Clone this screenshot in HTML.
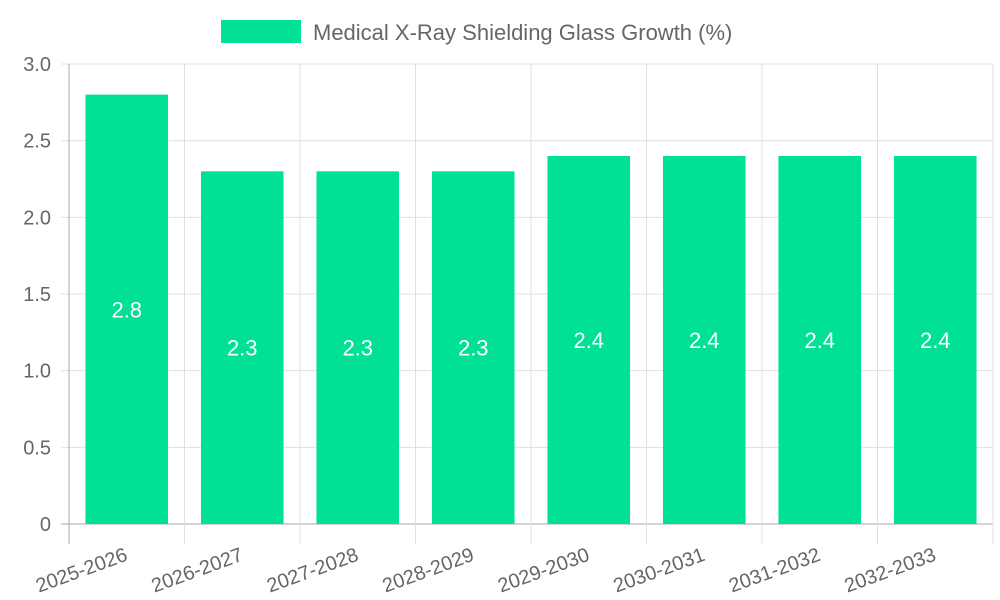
<!DOCTYPE html>
<html><head><meta charset="utf-8"><style>
body{margin:0;background:#fff;}
svg{display:block;font-family:"Liberation Sans",sans-serif;}
</style></head><body>
<svg id="chart" width="1000" height="600">
<rect x="221" y="20" width="80" height="23" fill="#00e096"/>
<text x="313" y="40" font-size="22" fill="#666">Medical X-Ray Shielding Glass Growth (%)</text>
</svg>
<script>
const categories=["2025-2026","2026-2027","2027-2028","2028-2029","2029-2030","2030-2031","2031-2032","2032-2033"];
const values=[2.8,2.3,2.3,2.3,2.4,2.4,2.4,2.4];
const yTicks=[0,0.5,1.0,1.5,2.0,2.5,3.0];
const yTickLabels=["0","0.5","1.0","1.5","2.0","2.5","3.0"];
const NS="http://www.w3.org/2000/svg";
const svg=document.getElementById('chart');
const L=69,R=993,T=64,B=524,yMax=3;
const bw=(R-L)/categories.length;
const y=v=>B-(v/yMax)*(B-T);
const x=i=>L+i*bw;
function mk(t,a){const e=document.createElementNS(NS,t);for(const k in a)e.setAttribute(k,a[k]);svg.appendChild(e);return e;}
yTicks.forEach((v,i)=>{
 const g=mk('line',{x1:L-8,x2:R,y1:y(v),y2:y(v),stroke:i==0?'#aaa':'#e0e0e0','stroke-width':1});
 
 
 const t=mk('text',{x:L-18,y:y(v)+7,'font-size':20,fill:'#666','text-anchor':'end'});
 t.textContent=yTickLabels[i];
 
 
});
for(let i=0;i<=categories.length;i++){
 const g=mk('line',{x1:x(i),x2:x(i),y1:T,y2:B+20,stroke:i==0?'#aaa':'#e0e0e0','stroke-width':1});
 
 
}
categories.forEach((c,i)=>{
 const cx=x(i)+bw/2,w=bw*0.715;
 const r=mk('rect',{x:cx-w/2,y:y(values[i]),width:w,height:B-y(values[i]),fill:'#00e096'});
 
 
 const vt=mk('text',{x:cx,y:(y(values[i])+B)/2+8,'font-size':22,fill:'#fff','text-anchor':'middle'});
 vt.textContent=values[i].toFixed(1);
 
 
 const xt=mk('text',{x:cx+2,y:B+36,'font-size':20,fill:'#666','text-anchor':'end',transform:`rotate(-20 ${cx+2} ${B+36})`});
 xt.textContent=c;
 
 
});
</script>
</body></html>
